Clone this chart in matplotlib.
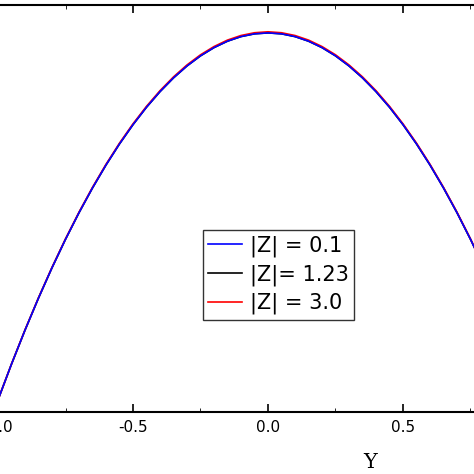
import matplotlib
matplotlib.use("Agg")
import matplotlib.pyplot as plt

Y = [-1.0, -0.95, -0.9, -0.85, -0.8, -0.75, -0.7, -0.65, -0.6, -0.55, -0.5, -0.45, -0.4, -0.35,
     -0.3, -0.25, -0.2, -0.15, -0.1, -0.05, 0.0, 0.05, 0.1, 0.15, 0.2, 0.25, 0.3, 0.35, 0.4,
     0.45, 0.5, 0.55, 0.6, 0.65, 0.7, 0.75, 0.8, 0.85, 0.9, 0.95, 1.0]
f_01 = [0.0, 0.0975, 0.19, 0.2775, 0.36, 0.4375, 0.51, 0.5775, 0.64, 0.6975, 0.75, 0.7975, 0.84,
        0.8775, 0.91, 0.9375, 0.96, 0.9775, 0.99, 0.9975, 1.0, 0.9975, 0.99, 0.9775, 0.96, 0.9375,
        0.91, 0.8775, 0.84, 0.7975, 0.75, 0.6975, 0.64, 0.5775, 0.51, 0.4375, 0.36, 0.2775, 0.19,
        0.0975, 0.0]
f_123 = list(f_01)
f_30 = [0.0, 0.0978, 0.1906, 0.2784, 0.3611, 0.4388, 0.5115, 0.5792, 0.6419, 0.6996, 0.7522,
        0.7999, 0.8425, 0.8801, 0.9127, 0.9403, 0.9628, 0.9804, 0.9929, 1.0004, 1.003, 1.0004,
        0.9929, 0.9804, 0.9628, 0.9403, 0.9127, 0.8801, 0.8425, 0.7999, 0.7522, 0.6996, 0.6419,
        0.5792, 0.5115, 0.4388, 0.3611, 0.2784, 0.1906, 0.0978, 0.0]
labels = ["|Z| = 0.1", "|Z|= 1.23", "|Z| = 3.0"]

plt.rcParams["axes.unicode_minus"] = False
fig = plt.figure(figsize=(4.74, 4.74), dpi=100)
W = H = 474.0
left_px = 268 - 1.05 * 270
ax = fig.add_axes([left_px / W, 62 / H, 2.1 * 270 / W, 407 / H])
ax.plot(Y, f_123, color="black", lw=1.2, label=labels[1])
ax.plot(Y, f_30, color="red", lw=1.2, label=labels[2])
ax.plot(Y, f_01, color="blue", lw=1.2, label=labels[0])
ax.set_xlim(-1.05, 1.05)
ax.set_ylim(-0.033, 1.076)
ax.set_xticks([-1.0, -0.5, 0.0, 0.5, 1.0])
ax.set_xticks([-0.75, -0.25, 0.25, 0.75], minor=True)
ax.set_yticks([])
ax.tick_params(axis="x", direction="in", length=6, width=1.2, labelsize=11, top=True, pad=6)
ax.tick_params(axis="x", which="minor", direction="in", length=3, top=True)
for s in ax.spines.values():
    s.set_linewidth(1.5)
h, l = ax.get_legend_handles_labels()
order = [2, 0, 1]
leg = ax.legend([h[i] for i in order], [l[i] for i in order], loc="upper left",
                bbox_to_anchor=(203 / W, 1 - 230 / H), bbox_transform=fig.transFigure,
                fontsize=15, frameon=True, fancybox=False, edgecolor="black",
                handlelength=1.6, handletextpad=0.4, borderpad=0.25, labelspacing=0.35,
                borderaxespad=0)
leg.get_frame().set_linewidth(1.0)
fig.text(370 / W, 1 - 462 / H, "Y", fontsize=15, family="DejaVu Serif", ha="center", va="center")
fig.savefig("out.png", dpi=100)
